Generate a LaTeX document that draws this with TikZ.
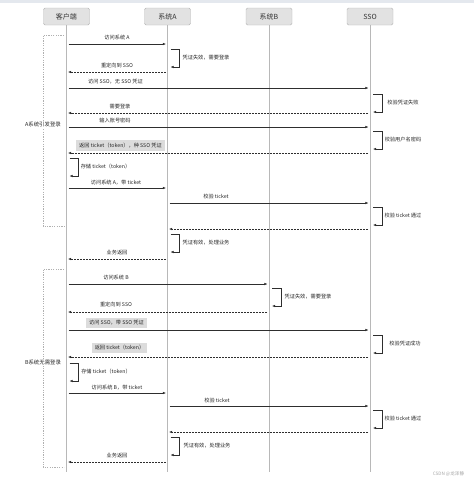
\documentclass[tikz,border=0pt]{standalone}
\usepackage{fontspec}
\setmainfont{Noto Sans CJK SC}
\usetikzlibrary{arrows.meta,calc}
\definecolor{partfill}{HTML}{E2E2E2}
\definecolor{partline}{HTML}{B4B4B4}
\definecolor{lifeline}{HTML}{B8B8B8}
\definecolor{msgcol}{HTML}{2E2E2E}
\definecolor{hlfill}{HTML}{DCDCDC}
\definecolor{band}{HTML}{E4E8EE}
\definecolor{grpcol}{HTML}{B0B0B0}
\tikzset{
  part/.style={draw=partline, fill=partfill, rounded corners=1.5pt, minimum width=46pt, minimum height=17pt, inner sep=0pt, font=\fontsize{7}{8}\selectfont, text=black!80},
  life/.style={draw=lifeline, line width=0.6pt},
  msg/.style={draw=msgcol, line width=0.5pt, -{Latex[length=3.2pt,width=2.6pt]}},
  ret/.style={msg, dash pattern=on 1.6pt off 1.4pt},
  lbl/.style={inner sep=0pt, font=\fontsize{5.2}{6}\selectfont, text=black!85},
  hl/.style={lbl, fill=hlfill, inner xsep=3pt, inner ysep=2.6pt},
  grp/.style={draw=grpcol, line width=0.5pt, dash pattern=on 1.2pt off 1.2pt},
  grplbl/.style={inner sep=1pt, fill=white, font=\fontsize{5.4}{6}\selectfont, text=black!85},
}
\begin{document}
\begin{tikzpicture}[x=1pt,y=-1pt]
\useasboundingbox (0,0) rectangle (474,480);
\fill[band] (0,0) rectangle (474,3);
% participants
\node[part] (cl) at (66.5,16.5) {客户端};
\node[part] (sa) at (167.5,16.5) {系统A};
\node[part] (sb) at (269,16.5) {系统B};
\node[part] (sso) at (370,16.5) {SSO};
\foreach \p in {cl,sa,sb,sso} \draw[life] (\p.south) -- (\p |- 0,472);
% groups
\draw[grp] (64,35) -- (43,35) -- (43,226) -- (64,226);
\node[grplbl] (ga) at (43,124) {A系统引发登录};
\draw[grp] (64,269) -- (43,269) -- (43,467) -- (64,467);
\node[grplbl] (gb) at (43,362) {B系统无需登录};
% ===== part A =====
\draw[msg, shorten <=2pt, shorten >=1.5pt] (cl |- 0,44) -- (sa |- 0,44);
\node[lbl] (m1) at (117,38) {访问系统 A};
\draw[msg] ([xshift=3pt]sa |- 0,49) -- ++(9,0) -- ++(0,18) -- ++(-9,0);
\node[lbl] (s1) at (206,58) {凭证失效，需要登录};
\draw[ret, shorten <=2pt, shorten >=1.5pt] (sa |- 0,72) -- (cl |- 0,72);
\node[lbl] (m2) at (117,65.5) {重定向到 SSO};
\draw[msg, shorten <=2pt, shorten >=1.5pt] (cl |- 0,88) -- (sso |- 0,88);
\node[lbl] (m3) at (115.5,81.5) {访问 SSO，无 SSO 凭证};
\draw[msg] ([xshift=3pt]sso |- 0,94) -- ++(9,0) -- ++(0,18) -- ++(-9,0);
\node[lbl] (s2) at (403,103) {校验凭证失败};
\draw[ret, shorten <=2pt, shorten >=1.5pt] (sso |- 0,113) -- (cl |- 0,113);
\node[lbl] (m4) at (120,107) {需要登录};
\draw[msg, shorten <=2pt, shorten >=1.5pt] (cl |- 0,127) -- (sso |- 0,127);
\node[lbl] (m5) at (115,120.5) {输入账号密码};
\draw[msg] ([xshift=3pt]sso |- 0,131) -- ++(9,0) -- ++(0,18) -- ++(-9,0);
\node[lbl] (s3) at (403,140) {校验用户名密码};
\draw[ret, shorten <=2pt, shorten >=1.5pt] (sso |- 0,153) -- (cl |- 0,153);
\node[hl] (m6) at (120.5,145.5) {返回 ticket（token），种 SSO 凭证};
\draw[msg] ([xshift=3pt]cl |- 0,158) -- ++(9,0) -- ++(0,18) -- ++(-9,0);
\node[lbl] (s4) at (105.5,167) {存储 ticket（token）};
\draw[msg, shorten <=2pt, shorten >=1.5pt] (cl |- 0,188) -- (sa |- 0,188);
\node[lbl] (m7) at (116,182.5) {访问系统 A，带 ticket};
\draw[msg, shorten <=2pt, shorten >=1.5pt] (sa |- 0,203) -- (sso |- 0,203);
\node[lbl] (m8) at (216,197) {校验 ticket};
\draw[msg] ([xshift=3pt]sso |- 0,207) -- ++(9,0) -- ++(0,18) -- ++(-9,0);
\node[lbl] (s5) at (403,216) {校验 ticket 通过};
\draw[ret, shorten <=2pt, shorten >=1.5pt] (sso |- 0,229) -- (sa |- 0,229);
\draw[msg] ([xshift=3pt]sa |- 0,234) -- ++(9,0) -- ++(0,18) -- ++(-9,0);
\node[lbl] (s6) at (206,243) {凭证有效，处理业务};
\draw[ret, shorten <=2pt, shorten >=1.5pt] (sa |- 0,259) -- (cl |- 0,259);
\node[lbl] (m9) at (117,252.5) {业务返回};
% ===== part B =====
\draw[msg, shorten <=2pt, shorten >=1.5pt] (cl |- 0,284) -- (sb |- 0,284);
\node[lbl] (n1) at (116,277.5) {访问系统 B};
\draw[msg] ([xshift=3pt]sb |- 0,288) -- ++(9,0) -- ++(0,18) -- ++(-9,0);
\node[lbl] (t1) at (308,297) {凭证失效，需要登录};
\draw[ret, shorten <=2pt, shorten >=1.5pt] (sb |- 0,312) -- (cl |- 0,312);
\node[lbl] (n2) at (116,304.5) {重定向到 SSO};
\draw[msg, shorten <=2pt, shorten >=1.5pt] (cl |- 0,330) -- (sso |- 0,330);
\node[hl] (n3) at (116.5,323) {访问 SSO，带 SSO 凭证};
\draw[msg] ([xshift=3pt]sso |- 0,335) -- ++(9,0) -- ++(0,18) -- ++(-9,0);
\node[lbl] (t2) at (405,343.5) {校验凭证成功};
\draw[ret, shorten <=2pt, shorten >=1.5pt] (sso |- 0,357) -- (cl |- 0,357);
\node[hl] (n4) at (119.5,348) {返回 ticket（token）};
\draw[msg] ([xshift=3pt]cl |- 0,363) -- ++(9,0) -- ++(0,18) -- ++(-9,0);
\node[lbl] (t3) at (106,372) {存储 ticket（token）};
\draw[msg, shorten <=2pt, shorten >=1.5pt] (cl |- 0,393) -- (sa |- 0,393);
\node[lbl] (n5) at (117,388) {访问系统 B，带 ticket};
\draw[msg, shorten <=2pt, shorten >=1.5pt] (sa |- 0,406) -- (sso |- 0,406);
\node[lbl] (n6) at (217,401) {校验 ticket};
\draw[msg] ([xshift=3pt]sso |- 0,410) -- ++(9,0) -- ++(0,18) -- ++(-9,0);
\node[lbl] (t4) at (403,419) {校验 ticket 通过};
\draw[ret, shorten <=2pt, shorten >=1.5pt] (sso |- 0,432) -- (sa |- 0,432);
\draw[msg] ([xshift=3pt]sa |- 0,437) -- ++(9,0) -- ++(0,18) -- ++(-9,0);
\node[lbl] (t5) at (207,446) {凭证有效，处理业务};
\draw[ret, shorten <=2pt, shorten >=1.5pt] (sa |- 0,462) -- (cl |- 0,462);
\node[lbl] (n7) at (117,456) {业务返回};
% watermark
\node[inner sep=0pt, font=\fontsize{4.6}{5}\selectfont, text=black!35] (wm) at (448.5,473.5) {CSDN @龙泽静};
\end{tikzpicture}
\end{document}
